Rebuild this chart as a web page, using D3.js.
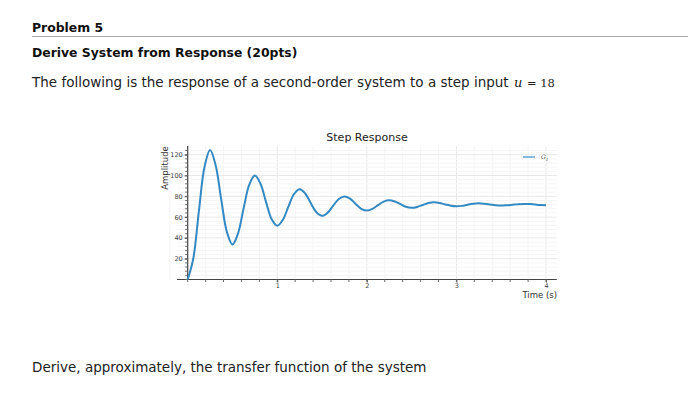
<!DOCTYPE html>
<html>
<head>
<meta charset="utf-8">
<script src="https://cdn.jsdelivr.net/npm/d3@7"></script>
<style>
  body { margin: 0; background: #fff; }
  svg { display: block; }
</style>
</head>
<body>
<div id="page"></div>
<script>
// Sample times (s) and step response amplitude
var timeValues = [
  0, 0.0625, 0.125, 0.1875, 0.25, 0.3125, 0.375, 0.4375,
  0.5, 0.5625, 0.625, 0.6875, 0.75, 0.8125, 0.875, 0.9375,
  1, 1.0625, 1.125, 1.1875, 1.25, 1.3125, 1.375, 1.4375,
  1.5, 1.5625, 1.625, 1.6875, 1.75, 1.8125, 1.875, 1.9375,
  2, 2.0625, 2.125, 2.1875, 2.25, 2.3125, 2.375, 2.4375,
  2.5, 2.5625, 2.625, 2.6875, 2.75, 2.8125, 2.875, 2.9375,
  3, 3.0625, 3.125, 3.1875, 3.25, 3.3125, 3.375, 3.4375,
  3.5, 3.5625, 3.625, 3.6875, 3.75, 3.8125, 3.875, 3.9375,
  4
];
var amplitudeValues = [
  0, 20.2, 65.8, 108.1, 124.5, 109.7, 76.5, 45.7,
  33.7, 44.5, 68.7, 91.2, 99.9, 92.1, 74.4, 58.0,
  51.7, 57.4, 70.3, 82.2, 86.8, 82.7, 73.3, 64.6,
  61.2, 64.2, 71.1, 77.4, 79.9, 77.7, 72.7, 68.0,
  66.3, 67.9, 71.5, 74.9, 76.2, 75.0, 72.4, 69.9,
  68.9, 69.8, 71.7, 73.5, 74.2, 73.6, 72.2, 70.9,
  70.4, 70.8, 71.9, 72.8, 73.2, 72.8, 72.1, 71.4,
  71.1, 71.4, 71.9, 72.4, 72.6, 72.5, 72.1, 71.7,
  71.5
];
var xTickValues = [1, 2, 3, 4];
var yTickValues = [20, 40, 60, 80, 100, 120];
var seriesName = "G";

// page size
var svgWidth = 700;
var svgHeight = 394;

var svg = d3.select("#page")
  .append("svg")
  .attr("width", svgWidth)
  .attr("height", svgHeight);

svg.append("rect")
  .attr("width", svgWidth)
  .attr("height", svgHeight)
  .attr("fill", "#fff");

var bodyFont = "'DejaVu Sans', Verdana, sans-serif";
var mathFont = "'DejaVu Serif', 'Liberation Serif', serif";

// Problem text
svg.append("text")
  .attr("x", 32).attr("y", 32)
  .attr("font-family", bodyFont)
  .attr("font-weight", "bold")
  .attr("font-size", 12.4)
  .attr("fill", "#111")
  .text("Problem 5");

svg.append("line")
  .attr("x1", 32).attr("x2", 688)
  .attr("y1", 36.5).attr("y2", 36.5)
  .attr("stroke", "#aaa")
  .attr("stroke-width", 1);

svg.append("text")
  .attr("x", 32).attr("y", 57)
  .attr("font-family", bodyFont)
  .attr("font-weight", "bold")
  .attr("font-size", 12.4)
  .attr("fill", "#111")
  .text("Derive System from Response (20pts)");

svg.append("text")
  .attr("x", 32).attr("y", 87)
  .attr("font-family", bodyFont)
  .attr("font-size", 13.5)
  .attr("fill", "#222")
  .text("The following is the response of a second-order system to a step input");

// u = 18, math style
svg.append("text")
  .attr("x", 514).attr("y", 87)
  .attr("font-family", mathFont)
  .attr("font-style", "italic")
  .attr("font-size", 13)
  .attr("fill", "#222")
  .text("u");
svg.append("text")
  .attr("x", 527).attr("y", 87)
  .attr("font-family", mathFont)
  .attr("font-size", 11.5)
  .attr("fill", "#222")
  .text("= 18");

svg.append("text")
  .attr("x", 32).attr("y", 372)
  .attr("font-family", bodyFont)
  .attr("font-size", 13.5)
  .attr("fill", "#222")
  .text("Derive, approximately, the transfer function of the system");

// Chart scales
var xScale = d3.scaleLinear()
  .domain([0, 4])
  .range([187.7, 546]);
var yScale = d3.scaleLinear()
  .domain([0, 120])
  .range([279.5, 154.7]);

var chartGroup = svg.append("g");

// grid lines
var xMinor = d3.range(-0.2, 4.11, 0.2);
var yMinor = d3.range(4, 128, 4);

chartGroup.append("g").selectAll("line")
  .data(xMinor).enter()
  .append("line")
  .attr("x1", d => xScale(d)).attr("x2", d => xScale(d))
  .attr("y1", yScale(0)).attr("y2", 146)
  .attr("stroke", d => Math.abs(d - Math.round(d)) < 1e-6 ? "#e8e8e8" : "#f4f4f4")
  .attr("stroke-width", 1);

chartGroup.append("g").selectAll("line")
  .data(yMinor).enter()
  .append("line")
  .attr("x1", xScale(-0.12)).attr("x2", xScale(4.12))
  .attr("y1", d => yScale(d)).attr("y2", d => yScale(d))
  .attr("stroke", d => d % 20 === 0 ? "#e8e8e8" : "#f5f5f5")
  .attr("stroke-width", 1);

// x axis
var bottomAxis = d3.axisBottom(xScale)
  .tickValues(xTickValues)
  .tickSize(3)
  .tickPadding(1)
  .tickFormat(d3.format("d"));
var xAxisG = chartGroup.append("g")
  .attr("transform", `translate(0, ${yScale(0)})`)
  .call(bottomAxis);
xAxisG.select(".domain").remove();
xAxisG.selectAll("line").attr("stroke", "#555");
xAxisG.selectAll("text")
  .attr("font-family", bodyFont)
  .attr("font-size", 6.5)
  .attr("fill", "#444");
xAxisG.append("line")
  .attr("x1", xScale(-0.12)).attr("x2", xScale(4.12))
  .attr("stroke", "#444")
  .attr("stroke-width", 1.2);
xAxisG.append("g").selectAll("line")
  .data(d3.range(0, 4.11, 0.2)).enter()
  .append("line")
  .attr("x1", d => xScale(d)).attr("x2", d => xScale(d))
  .attr("y1", 0).attr("y2", 2.5)
  .attr("stroke", "#666");

// y axis
var leftAxis = d3.axisLeft(yScale)
  .tickValues(yTickValues)
  .tickSize(3);
var yAxisG = chartGroup.append("g")
  .attr("transform", `translate(${xScale(0)}, 0)`)
  .call(leftAxis);
yAxisG.select(".domain").remove();
yAxisG.selectAll("line").attr("stroke", "#555");
yAxisG.selectAll("text")
  .attr("font-family", bodyFont)
  .attr("font-size", 6.5)
  .attr("fill", "#444")
  .attr("x", -5);
yAxisG.append("line")
  .attr("y1", yScale(0)).attr("y2", 146)
  .attr("stroke", "#444")
  .attr("stroke-width", 1.2);
yAxisG.append("g").selectAll("line")
  .data(d3.range(0, 128, 4)).enter()
  .append("line")
  .attr("y1", d => yScale(d)).attr("y2", d => yScale(d))
  .attr("x1", -2.5).attr("x2", 0)
  .attr("stroke", "#666");

// step response line
var points = timeValues.map((t, i) => [t, amplitudeValues[i]]);
var line = d3.line()
  .x(d => xScale(d[0]))
  .y(d => yScale(d[1]))
  .curve(d3.curveCatmullRom.alpha(0.5));

chartGroup.append("path")
  .datum(points)
  .attr("d", line)
  .attr("fill", "none")
  .attr("stroke", "#3389c2")
  .attr("stroke-width", 2)
  .attr("stroke-linejoin", "round");

// title and axis labels
chartGroup.append("text")
  .attr("x", 367).attr("y", 141)
  .attr("text-anchor", "middle")
  .attr("font-family", bodyFont)
  .attr("font-size", 11)
  .attr("fill", "#222")
  .text("Step Response");

chartGroup.append("text")
  .attr("transform", "rotate(-90)")
  .attr("x", -168).attr("y", 168)
  .attr("text-anchor", "middle")
  .attr("font-family", bodyFont)
  .attr("font-size", 8.5)
  .attr("fill", "#333")
  .text("Amplitude");

chartGroup.append("text")
  .attr("x", 557).attr("y", 298)
  .attr("text-anchor", "end")
  .attr("font-family", bodyFont)
  .attr("font-size", 8.5)
  .attr("fill", "#333")
  .text("Time (s)");

// legend
var legend = chartGroup.append("g")
  .attr("transform", "translate(523, 157)");
legend.append("line")
  .attr("x1", 0).attr("x2", 12)
  .attr("stroke", "#5aa3d3")
  .attr("stroke-width", 1.5);
var legendText = legend.append("text")
  .attr("x", 18).attr("y", 2)
  .attr("font-family", mathFont)
  .attr("font-style", "italic")
  .attr("font-size", 6)
  .attr("fill", "#555")
  .text(seriesName);
legendText.append("tspan")
  .attr("font-size", 4)
  .attr("dy", 1.5)
  .text("1");
</script>
</body>
</html>
